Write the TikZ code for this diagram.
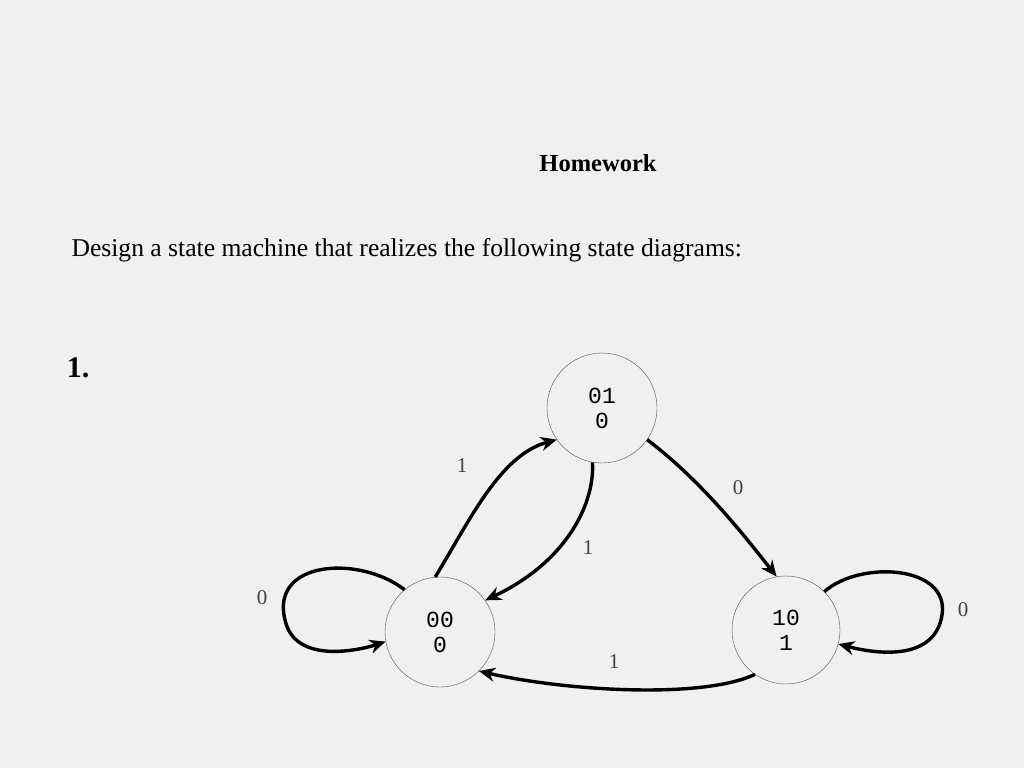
\documentclass[tikz,border=0pt]{standalone}
\usepackage{fontspec}
\setmainfont{Liberation Serif}
\setmonofont{Liberation Mono}
\usetikzlibrary{arrows.meta}
\begin{document}
\begin{tikzpicture}[x=1pt,y=-1pt,
  state/.style={circle,draw=black!70,thin,minimum size=110pt,inner sep=0pt,align=center,font=\ttfamily\fontsize{23}{25}\selectfont},
  arr/.style={line width=3.4pt,-{Stealth[length=16pt,width=14pt]}},
  lbl/.style={font=\fontsize{21}{23}\selectfont,text=black!75}]
\fill[black!6] (0,0) rectangle (1024,768);
\useasboundingbox (0,0) rectangle (1024,768);
\node (title) at (598,163) {\fontsize{24.5}{27}\selectfont\bfseries Homework};
\node[anchor=west] (task) at (68,250) {\fontsize{25.6}{28}\selectfont Design a state machine that realizes the following state diagrams:};
\node (num) at (78,368) {\fontsize{30}{32}\selectfont\bfseries 1.};
\node[state] (s01) at (602,408) {01\\0};
\node[state] (s00) at (440,632) {00\\0};
\node[state,minimum size=108pt] (s10) at (786,630) {10\\1};
\draw[arr] (s00.95) .. controls (470,520) and (500,455) .. (s01.215);
\draw[arr] (s01.260) .. controls (595,500) and (570,560) .. (s00.35);
\draw[arr] (s01.325) .. controls (700,480) and (740,530) .. (s10.100);
\draw[arr] (s10.235) .. controls (700,700) and (560,690) .. (s00.315);
\draw[arr] (s00.130) .. controls (360,555) and (270,560) .. (285,620) .. controls (295,665) and (360,650) .. (s00.190);
\draw[arr] (s10.45) .. controls (860,560) and (950,565) .. (942,615) .. controls (935,660) and (880,655) .. (s10.345);
\node[lbl] (a) at (462,466) {1};
\node[lbl] (b) at (738,488) {0};
\node[lbl] (c) at (588,548) {1};
\node[lbl] (d) at (262,598) {0};
\node[lbl] (e) at (614,662) {1};
\node[lbl] (f) at (963,610) {0};
\end{tikzpicture}
\end{document}
